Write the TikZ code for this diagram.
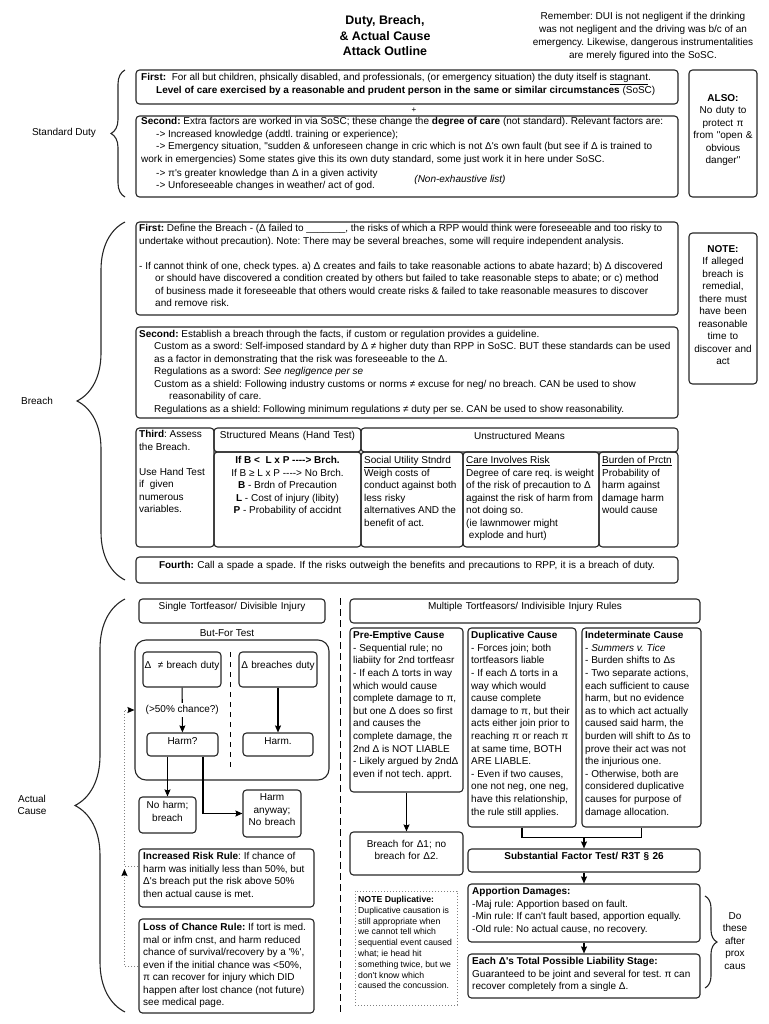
\documentclass[tikz,border=0pt]{standalone}
\usepackage{fontspec}
\setmainfont{Liberation Sans}[Ligatures=TeXOff]
\usetikzlibrary{fit,decorations.pathreplacing,arrows.meta}
\newcommand{\fsz}[2]{\fontsize{#1}{#2}\selectfont}
\tikzset{
  box/.style={draw=black!85,line width=1.1pt,rounded corners=3.5pt,inner sep=0pt},
  txt/.style={inner sep=0pt,anchor=north west,align=left,font=\fsz{10}{12.5}},
  ctxt/.style={inner sep=0pt,align=center,font=\fsz{10}{12.5}},
  brc/.style={decorate,decoration={brace,amplitude=#1},line width=1.1pt,black!85},
  dots/.style={gray,line width=1pt,dash pattern=on 1pt off 2pt},
  conn/.style={line width=1.1pt},
}
\frenchspacing
\begin{document}
\begin{tikzpicture}[>={Stealth[length=7pt,width=6pt,inset=1pt]},x=1pt,y=-1pt]
\useasboundingbox (0,0) rectangle (768,1024);
\node[ctxt,font=\bfseries\fsz{12.4}{15.5}] (title) at (385,36) {Duty, Breach,\\ \& Actual Cause\\ Attack Outline};
\node[ctxt,font=\fsz{10}{13}] (remember) at (643,36) {Remember: DUI is not negligent if the drinking\\ was not negligent and the driving was b/c of an\\ emergency. Likewise, dangerous instrumentalities\\ are merely figured into the SoSC.};
% standard duty
\node[box,fit={(136,70) (678,104)}] (sdfirst) {};
\node[txt] (sdfirstt) at (141,73.3) {\textbf{First:}\ \ For all but children, phsically disabled, and professionals, (or emergency situation) the duty itself is \underline{stagnant}.\\
\hspace*{15pt}\textbf{Level of care exercised by a reasonable and prudent person in the same or similar circumstances} (SoSC)};
\node[inner sep=0pt,font=\fsz{8}{10}] (plus) at (414,110) {+};
\node[box,fit={(136,116) (678,197)}] (sdsecond) {};
\node[txt] (sdsecondt) at (141,117.5) {\textbf{Second:} Extra factors are worked in via SoSC; these change the \textbf{degree of care} (not standard). Relevant factors are:\\
\hspace*{15pt}-> Increased knowledge (addtl. training or experience);\\
\hspace*{15pt}-> Emergency situation, "sudden \& unforeseen change in cric which is not Δ's own fault (but see if Δ is trained to\\
work in emergencies) Some states give this its own duty standard, some just work it in here under SoSC.\\[1.5pt]
\hspace*{15pt}-> π's greater knowledge than Δ in a given activity\\
\hspace*{15pt}-> Unforeseeable changes in weather/ act of god.};
\node[ctxt,font=\itshape\fsz{10}{12.5}] (nonex) at (460,180) {(Non-exhaustive list)};
\node[box,fit={(689,70) (757,197)},ctxt] (also) {\textbf{ALSO:}\\ No duty to\\ protect π\\ from "open \&\\ obvious\\ danger"};
\draw[brc=14pt] (125,197) -- (125,70);
\node[ctxt] (sdlabel) at (64,133) {Standard Duty};
% breach
\node[box,fit={(136,222) (678,315)}] (brfirst) {};
\node[txt] (brfirstt) at (139,224.3) {\textbf{First:} Define the Breach - (Δ failed to \_\_\_\_\_\_\_, the risks of which a RPP would think were foreseeable and too risky to\\
undertake without precaution). Note: There may be several breaches, some will require independent analysis.\\[12.5pt]
- If cannot think of one, check types. a) Δ creates and fails to take reasonable actions to abate hazard; b) Δ discovered\\
\hspace*{16pt}or should have discovered a condition created by others but failed to take reasonable steps to abate; or c) method\\
\hspace*{16pt}of business made it foreseeable that others would create risks \& failed to take reasonable measures to discover\\
\hspace*{16pt}and remove risk.};
\node[box,fit={(689,233) (757,384)},ctxt] (note) {\textbf{NOTE:}\\ If alleged\\ breach is\\ remedial,\\ there must\\ have been\\ reasonable\\ time to\\ discover and\\ act};
\node[box,fit={(136,327) (678,418)}] (brsecond) {};
\node[txt] (brsecondt) at (139,329.8) {\textbf{Second:} Establish a breach through the facts, if custom or regulation provides a guideline.\\
\hspace*{15pt}Custom as a sword: Self-imposed standard by Δ ≠ higher duty than RPP in SoSC. BUT these standards can be used\\
\hspace*{15pt}as a factor in demonstrating that the risk was foreseeable to the Δ.\\
\hspace*{15pt}Regulations as a sword: \textit{See negligence per se}\\
\hspace*{15pt}Custom as a shield: Following industry customs or norms ≠ excuse for neg/ no breach. CAN be used to show\\
\hspace*{30pt}reasonability of care.\\
\hspace*{15pt}Regulations as a shield: Following minimum regulations ≠ duty per se. CAN be used to show reasonability.};
\node[box,fit={(136,428) (214,547)}] (third) {};
\node[txt] (thirdt) at (139,430.3) {\textbf{Third}: Assess\\ the Breach.\\[12.5pt] Use Hand Test\\ if\ \ given\\ numerous\\ variables.};
\node[box,fit={(214,428) (361,452)},ctxt] (smhead) {Structured Means (Hand Test)};
\node[box,fit={(214,452) (361,547)}] (smbody) {};
\node[ctxt] (handtest) at (287.5,486) {\textbf{If B <\ \ L x P ----> Brch.}\\ If B ≥ L x P ----> No Brch.\\ \textbf{B} - Brdn of Precaution\\ \textbf{L} - Cost of injury (libity)\\ \textbf{P} - Probability of accidnt};
\node[box,fit={(361,428) (678,452)},ctxt] (umhead) {Unstructured Means};
\node[box,fit={(361,452) (463,547)}] (social) {};
\node[txt] (socialt) at (364,456.3) {\underline{Social Utility Stndrd}\\ Weigh costs of\\ conduct against both\\ less risky\\ alternatives AND the\\ benefit of act.};
\node[box,fit={(463,452) (599,547)}] (care) {};
\node[txt] (caret) at (466,456.3) {\underline{Care Involves Risk}\\ Degree of care req. is weight\\ of the risk of precaution to Δ\\ against the risk of harm from\\ not doing so.\\ (ie lawnmower might\\ \ explode and hurt)};
\node[box,fit={(599,452) (678,547)}] (burden) {};
\node[txt] (burdent) at (602,456.3) {\underline{Burden of Prctn}\\ Probability of\\ harm against\\ damage harm\\ would cause};
\node[box,fit={(136,557) (678,583)},ctxt] (fourth) {\textbf{Fourth:} Call a spade a spade. If the risks outweigh the benefits and precautions to RPP, it is a breach of duty.};
\draw[brc=48pt] (125,580) -- (125,222);
\node[ctxt] (brlabel) at (37,401) {Breach};
% actual cause
\draw[brc=50pt] (125,1012) -- (125,599);
\node[ctxt] (aclabel) at (32,805) {Actual\\ Cause};
\draw[line width=1pt,dash pattern=on 7pt off 4pt] (340,598) -- (340,1015);
\node[box,fit={(139,599) (325,623)},ctxt] (single) {Single Tortfeasor/ Divisible Injury};
\node[ctxt] (butfor) at (227,633) {But-For Test};
\node[box,rounded corners=11pt,fit={(135,640) (329,780)}] (butbox) {};
\draw[line width=1pt,dash pattern=on 5pt off 5pt] (230,652) -- (230,767);
\node[box,fit={(143,652) (221,687)},ctxt] (nobreach) {Δ\ \ ≠ breach duty};
\node[box,fit={(239,652) (317,687)},ctxt] (breaches) {Δ breaches duty};
\node[box,fit={(147,733) (218,756)},ctxt] (harmq) {Harm?};
\node[box,fit={(243,733) (313,756)},ctxt] (harm) {Harm.};
\node[box,fit={(139,797) (196,833)},ctxt] (noharm) {No harm;\\ breach};
\node[box,fit={(243,790) (301,837)},ctxt] (anyway) {Harm\\ anyway;\\ No breach};
\node[box,fit={(139,849) (314,907)}] (incr) {};
\node[txt] (incrt) at (143,852.3) {\textbf{Increased Risk Rule}: If chance of\\ harm was initially less than 50\%, but\\ Δ's breach put the risk above 50\%\\ then actual cause is met.};
\node[box,fit={(139,919) (314,1013)}] (loss) {};
\node[txt] (losst) at (143,923.3) {\textbf{Loss of Chance Rule:} If tort is med.\\ mal or infm cnst, and harm reduced\\ chance of survival/recovery by a '\%',\\ even if the initial chance was <50\%,\\ π can recover for injury which DID\\ happen after lost chance (not future)\\ see medical page.};
\draw[->,conn] (nobreach) -- node[fill=white,ctxt,inner ysep=2pt] (chance) {(>50\% chance?)} (harmq);
\draw[->,conn] (breaches) -- (harm);
\draw[->,conn] (noharm.north |- harmq.south) -- (noharm.north);
\draw[->,conn] ([xshift=20.5pt]harmq.south) |- (anyway.west);
\draw[-{Stealth[length=7pt,width=6pt,inset=1pt,black]},dots] ([yshift=12pt]incr.west) -- ++(-14,0) |- (butbox.west);
\draw[-{Stealth[length=7pt,width=6pt,inset=1pt,black]},dots] (loss.west) -| ([xshift=-14pt,yshift=9pt]incr.west);
% multiple tortfeasors
\node[box,fit={(350,599) (700,623)},ctxt] (multi) {Multiple Tortfeasors/ Indivisible Injury Rules};
\node[box,fit={(350,628) (463,792)}] (preempt) {};
\node[txt,font=\fsz{10}{12.6}] (preemptt) at (353,631.3) {\textbf{Pre-Emptive Cause}\\ - Sequential rule; no\\ liabiity for 2nd tortfeasr\\ - If each Δ torts in way\\ which would cause\\ complete damage to π,\\ but one Δ does so first\\ and causes the\\ complete damage, the\\ 2nd Δ is NOT LIABLE\\ - Likely argued by 2ndΔ\\ even if not tech. apprt.};
\node[box,fit={(468,628) (576,827)}] (dup) {};
\node[txt,font=\fsz{10}{12.6}] (dupt) at (471,631.3) {\textbf{Duplicative Cause}\\ - Forces join; both\\ tortfeasors liable\\ - If each Δ torts in a\\ way which would\\ cause complete\\ damage to π, but their\\ acts either join prior to\\ reaching π or reach π\\ at same time, BOTH\\ ARE LIABLE.\\ - Even if two causes,\\ one not neg, one neg,\\ have this relationship,\\ the rule still applies.};
\node[box,fit={(582,628) (701,827)}] (indet) {};
\node[txt,font=\fsz{10}{12.6}] (indett) at (585,631.3) {\textbf{Indeterminate Cause}\\ - \textit{Summers v. Tice}\\ - Burden shifts to Δs\\ - Two separate actions,\\ each sufficient to cause\\ harm, but no evidence\\ as to which act actually\\ caused said harm, the\\ burden will shift to Δs to\\ prove their act was not\\ the injurious one.\\ - Otherwise, both are\\ considered duplicative\\ causes for purpose of\\ damage allocation.};
\node[box,fit={(350,832) (463,875)},ctxt] (breachd) {Breach for Δ1; no\\ breach for Δ2.};
\node[box,fit={(468,849) (700,872)},ctxt,font=\bfseries\fsz{10}{12.5}] (subst) {Substantial Factor Test/ R3T § 26};
\node[box,fit={(468,884) (700,942)}] (apport) {};
\node[txt] (apportt) at (472,887.3) {\textbf{Apportion Damages:}\\ -Maj rule: Apportion based on fault.\\ -Min rule: If can't fault based, apportion equally.\\ -Old rule: No actual cause, no recovery.};
\node[box,fit={(468,954) (700,998)}] (each) {};
\node[txt] (eacht) at (472,957.3) {\textbf{Each Δ's Total Possible Liability Stage:}\\ Guaranteed to be joint and several for test. π can\\ recover completely from a single Δ.};
\node[dots,draw,inner sep=0pt,fit={(355,891) (457,1005)}] (notedup) {};
\node[txt,font=\fsz{8.7}{10.8}] (notedupt) at (358,896) {\textbf{NOTE Duplicative:}\\ Duplicative causation is\\ still appropriate when\\ we cannot tell which\\ sequential event caused\\ what; ie head hit\\ something twice, but we\\ don't know which\\ caused the concussion.};
\draw[->,conn] (preempt) -- (breachd);
\draw[conn] (dup.south) -- ++(0,10) coordinate (join) -| (indet.south);
\draw[->,conn] (join -| subst.north) -- (subst.north);
\draw[->,conn] (subst) -- (apport);
\draw[->,conn] (apport) -- (each);
\draw[brc=12pt] (705,896) -- (705,988);
\node[ctxt] (dothese) at (735,941) {Do\\ these\\ after\\ prox\\ caus};
\end{tikzpicture}
\end{document}
